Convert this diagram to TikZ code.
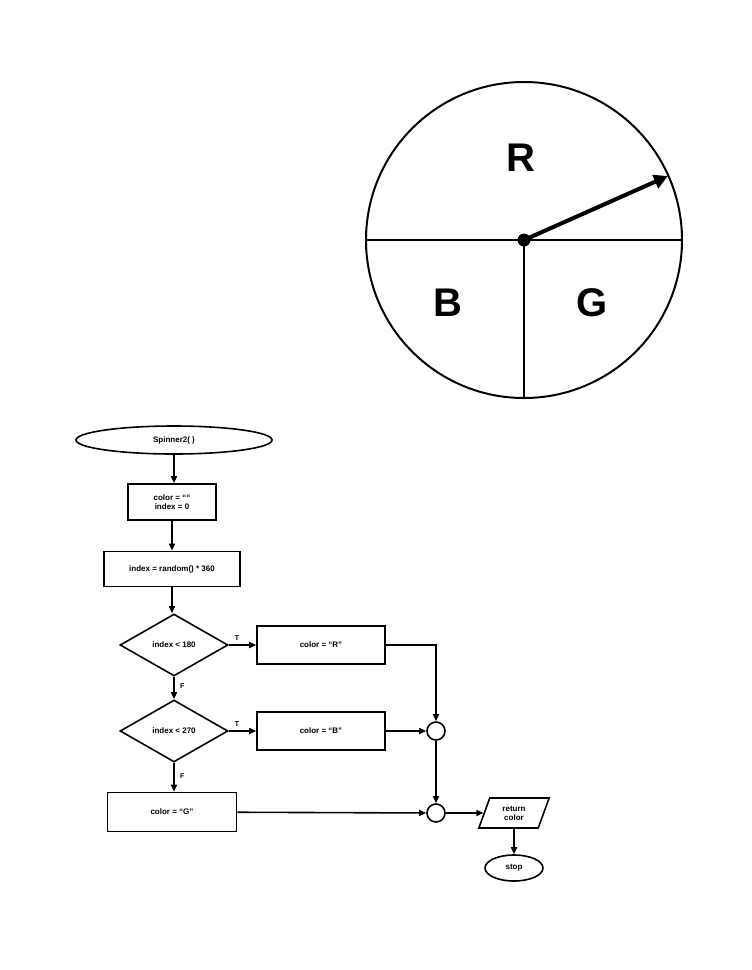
\documentclass[tikz,border=0pt]{standalone}
\usepackage{fontspec}
\setmainfont{Liberation Sans}
\usetikzlibrary{shapes.geometric,arrows.meta}
\begin{document}
\begin{tikzpicture}[x=1pt,y=-1pt,
  ln/.style={line width=1.6pt},
  ar/.style={ln,-{Triangle[length=7pt,width=6pt]}},
  box/.style={draw,ln,rectangle,font=\bfseries\fontsize{8}{9}\selectfont,align=center,inner sep=0pt},
  dia/.style={draw,ln,diamond,aspect=1.75,font=\bfseries\fontsize{8}{9}\selectfont,inner sep=0pt,minimum width=108pt,minimum height=62pt},
  ell/.style={draw,ln,ellipse,font=\bfseries\fontsize{8}{9}\selectfont,inner sep=0pt},
  jn/.style={draw,ln,circle,minimum size=18pt,inner sep=0pt},
  lab/.style={font=\bfseries\fontsize{7}{8}\selectfont},
  big/.style={font=\bfseries\fontsize{40}{40}\selectfont}]
\useasboundingbox (0,0) rectangle (752,970);
% spinner
\coordinate (c) at (524,240);
\draw[ln,line width=2pt] (c) circle (158);
\draw[ln,line width=2pt] (366,240) coordinate (hl) -- (682,240) coordinate (hr);
\draw[ln,line width=2pt] (c) -- (524,398) coordinate (vb);
\draw[line width=4pt,-{Triangle[length=14pt,width=14pt]}] (c) -- (668,176) coordinate (tip);
\fill (c) circle (6.5);
\node[big] (R) at (521,158) {R};
\node[big] (B) at (448,303) {B};
\node[big] (G) at (592,303) {G};
% flowchart
\node[ell,minimum width=196pt,minimum height=28pt] (s) at (174,440) {Spinner2( )};
\node[box,minimum width=88pt,minimum height=36pt] (i) at (172,502) {color = ““\\index = 0};
\node[box,minimum width=136pt,minimum height=35pt] (r) at (172,569) {index = random() * 360};
\node[dia] (d1) at (174,645) {index < 180};
\node[box,minimum width=128pt,minimum height=38pt] (bR) at (321,645) {color = “R”};
\node[dia] (d2) at (174,731) {index < 270};
\node[box,minimum width=128pt,minimum height=38pt] (bB) at (321,731) {color = “B”};
\node[box,minimum width=129pt,minimum height=39pt] (bG) at (172,812) {color = “G”};
\node[jn] (j1) at (436,731) {};
\node[jn] (j2) at (436,813) {};
\node[draw,ln,trapezium,trapezium left angle=70,trapezium right angle=110,minimum width=70pt,minimum height=30pt,inner sep=0pt,align=center,font=\bfseries\fontsize{8}{9}\selectfont] (ret) at (514,813) {return\\color};
\node[ell,minimum width=58pt,minimum height=26pt] (st) at (514,868) {stop};
\draw[ar] (s) -- (s|-i.north);
\draw[ar] (i) -- (i|-r.north);
\draw[ar] (r.south) -- (r.south|-d1.north);
\draw[ar] (d1) -- (bR) node[lab,pos=0.3,above] {T};
\draw[ar] (d1) -- (d2) node[lab,pos=0.4,right,xshift=2pt] {F};
\draw[ar] (d2) -- (bB) node[lab,pos=0.3,above] {T};
\draw[ar] (d2.south) -- (d2.south|-bG.north) node[lab,pos=0.45,right,xshift=2pt] {F};
\draw[ar] (bR.east) -| (j1.north);
\draw[ar] (bB) -- (j1);
\draw[ar] (j1) -- (j2);
\draw[ar] (bG) -- (j2);
\draw[ar] (j2) -- (ret.west|-j2);
\draw[ar] (ret) -- (st);
\end{tikzpicture}
\end{document}
